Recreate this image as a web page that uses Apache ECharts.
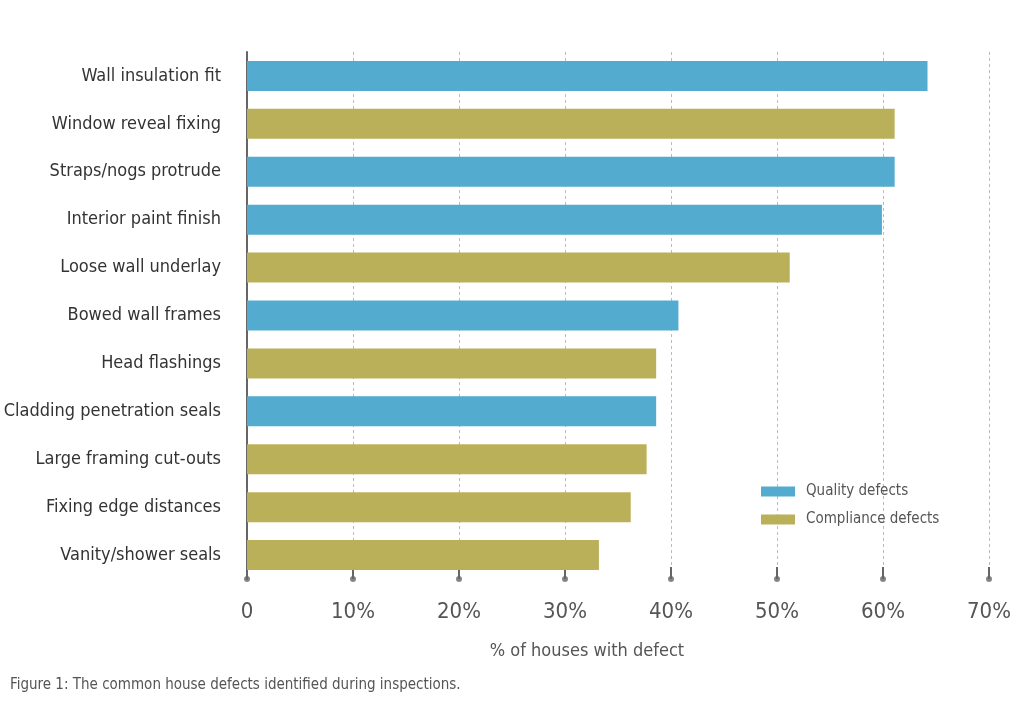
<!DOCTYPE html>
<html>
<head>
<meta charset="utf-8">
<script src="https://cdn.jsdelivr.net/npm/echarts@6/dist/echarts.min.js"></script>
<style>
html,body{margin:0;padding:0;background:#fff;}
#c{width:1024px;height:702px;}
</style>
</head>
<body>
<div id="c"></div>
<script>
const categories = ["Wall insulation fit","Window reveal fixing","Straps/nogs protrude","Interior paint finish","Loose wall underlay","Bowed wall frames","Head flashings","Cladding penetration seals","Large framing cut-outs","Fixing edge distances","Vanity/shower seals"];
const values = [64.2, 61.1, 61.1, 59.9, 51.2, 40.7, 38.6, 38.6, 37.7, 36.2, 33.2];
const defectType = ["Q","C","Q","Q","C","Q","C","Q","C","C","C"];
const tickValues = [0, 10, 20, 30, 40, 50, 60, 70];
const seriesNames = ["Quality defects", "Compliance defects"];
const caption = "Figure 1: The common house defects identified during inspections.";

const FONT = '"Liberation Sans Narrow", "DejaVu Sans Condensed", sans-serif';
const quality = values.map((v, i) => defectType[i] === "Q" ? v : null);
const compliance = values.map((v, i) => defectType[i] === "C" ? v : null);

const chart = echarts.init(document.getElementById('c'));
const gridPos = {left: 247, right: 35, top: 52, bottom: 123};
chart.setOption({
  animation: false,
  backgroundColor: '#fff',
  title: {
    text: caption, left: 5, top: 673,
    textStyle: {fontFamily: FONT, fontSize: 15, fontWeight: 'normal', color: '#555'}
  },
  legend: {
    orient: 'vertical', left: 756, top: 479, itemWidth: 34, itemHeight: 10, itemGap: 13,
    icon: 'rect', data: seriesNames,
    textStyle: {fontFamily: FONT, fontSize: 15, color: '#555', padding: [0, 0, 0, 6]}
  },
  grid: [Object.assign({}, gridPos), Object.assign({}, gridPos)],
  xAxis: [{
    type: 'value', min: 0, max: 70, interval: 10, gridIndex: 0,
    axisLine: {show: false},
    axisTick: {show: true, inside: true, length: 12, lineStyle: {color: '#666', width: 2}},
    axisLabel: {fontFamily: FONT, fontSize: 22, color: '#555', margin: 22,
      formatter: v => v === 0 ? '0' : v + '%'},
    splitLine: {show: true, lineStyle: {type: [3, 3], color: '#bbb', width: 1}},
    name: '% of houses with defect', nameLocation: 'middle', nameGap: 63,
    nameTextStyle: {fontFamily: FONT, fontSize: 18, color: '#555', padding: [0, 62, 0, 0]}
  }, {
    type: 'value', min: 0, max: 70, gridIndex: 1, show: false
  }],
  yAxis: [{
    type: 'category', data: categories, inverse: true, gridIndex: 0,
    axisLine: {show: true, lineStyle: {color: '#666', width: 2}},
    axisTick: {show: false},
    axisLabel: {fontFamily: FONT, fontSize: 18, color: '#333', margin: 26}
  }, {
    type: 'value', min: 0, max: 1, gridIndex: 1, show: false
  }],
  series: [{
    name: seriesNames[0], type: 'bar', stack: 'a', data: quality, barWidth: 30,
    itemStyle: {color: '#53abd0'}
  }, {
    name: seriesNames[1], type: 'bar', stack: 'a', data: compliance, barWidth: 30,
    itemStyle: {color: '#bbb05a'}
  }, {
    type: 'scatter', xAxisIndex: 1, yAxisIndex: 1, clip: false, silent: true,
    symbolSize: 6, itemStyle: {color: '#666'},
    data: tickValues.map(t => [t, 0])
  }]
});
</script>
</body>
</html>
